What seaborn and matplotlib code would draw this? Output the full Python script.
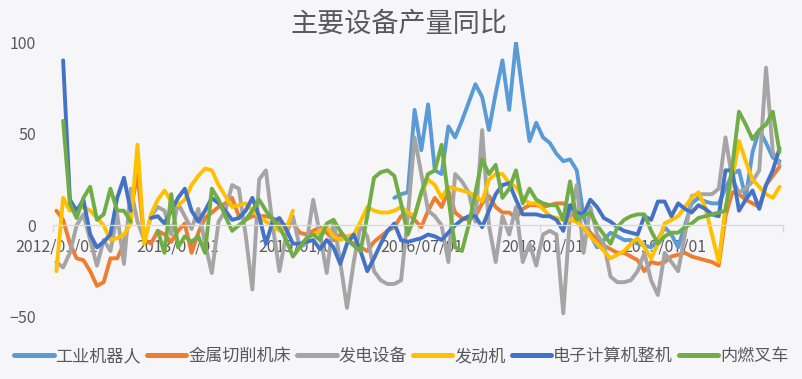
import numpy as np
import pandas as pd
import seaborn as sns
import matplotlib

matplotlib.use("Agg")
import matplotlib.pyplot as plt

NA = np.nan

# monthly categories 2012/01 .. 2020/12
months = pd.date_range("2012-01-01", periods=108, freq="MS")
tick_pos = [0, 18, 36, 54, 72, 90]
tick_labels = ["2012/01/01", "2013/07/01", "2015/01/01", "2016/07/01", "2018/01/01", "2019/07/01"]

series_names = ["工业机器人", "金属切削机床", "发电设备", "发动机", "电子计算机整机", "内燃叉车"]
colors = ["#5B9BD5", "#ED7D31", "#A5A5A5", "#FFC000", "#4472C4", "#70AD47"]

robot = [NA] * 50 + [
    15, 17, 18, 63, 41, 66, 30, 28, 54, 48,
    57, 67, 77, 70, 52, 72, 90, 63, 100, 72,
    46, 56, 48, 45, 39, 35, 36, 30, 5, -5,
    -12, -8, -4, -6, -8, -8, -10, -11, -12, -8,
    -1, -5, -12, 0, 12, 15, 13, 12, 12, 20,
    28, 30, 15, 40, 52, 45, 37, 35,
]

machine_tool = [
    8, 3, -10, -18, -19, -25, -33, -31, -18, -18,
    -10, 8, 28, -8, -10, -3, -5, -9, -3, 1,
    -15, -4, 4, 7, 10, 12, 15, 5, 3, 5,
    5, 5, 4, 1, 0, 1, -4, -5, -3, -1,
    -4, -8, -5, -8, -10, -12, -14, -9, -6, -3,
    -1, 5, 7, 3, -1, 8, 15, 10, 19, 7,
    4, 3, 5, 12, 16, 10, 7, 7, 4, 9,
    11, 11, 10, 11, 12, 12, 10, 2, -2, -4,
    -8, -11, -13, -15, -15, -17, -19, -25, -20, -21,
    -20, -17, -16, -15, -17, -18, -19, -20, -22, 5,
    18, 17, 14, 12, 10, 22, 27, 32,
]

power_gen = [
    -20, -23, -15, 0, 6, -8, -22, -8, -14, 6,
    -21, 20, 2, -8, 5, 10, 8, -5, 12, 5,
    -2, 9, -10, -26, 2, 8, 22, 20, -5, -35,
    25, 30, 0, -25, -5, 5, -12, -10, 14, -5,
    -26, 3, -20, -45, -20, 0, -6, -25, -30, -32,
    -32, -30, 5, 48, 28, 8, 5, 0, -20, 28,
    24, 18, 2, 52, 0, -20, 5, -5, 10, -20,
    -10, -22, -5, -3, -5, -48, 5, 22, -15, 10,
    -5, -10, -28, -31, -31, -30, -25, -15, -30, -38,
    -15, -20, -25, -5, 16, 17, 17, 17, 20, 48,
    25, 18, 20, 24, 30, 86, 40, 33,
]

engine = [
    -25, 15, 8, 9, 10, 8, 4, 0, -8, -7,
    -5, 1, 44, -10, 6, 14, 19, 13, 11, 14,
    22, 27, 31, 30, 22, 16, 10, 11, 12, 8,
    5, 2, 0, -3, -2, 8, NA, NA, -5, -3,
    -1, -6, -8, -6, -5, 2, 10, 8, 7, 7,
    8, 10, 7, 5, 18, 25, 22, 15, 21, 20,
    19, 18, 16, 13, 25, 28, 28, 23, 21, 15,
    12, 12, 9, 5, 4, 3, 3, 2, -1, -6,
    -10, -14, -18, -16, -14, -10, -7, -12, -18, -10,
    1, 3, 5, 10, 15, 18, 10, -5, -20, 10,
    25, 46, 35, 25, 21, 17, 15, 21,
]

computer = [
    NA, 90, 14, 8, 14, -5, -12, -9, -5, 15,
    26, 8, NA, NA, 4, 5, 1, 8, 15, 20,
    8, 2, 8, 15, 12, 8, 3, 4, 8, 15,
    5, -10, 2, 4, -2, -10, -10, -9, -8, -13,
    -8, -12, -21, -10, -5, -14, -25, -18, -10, -3,
    1, -8, -9, -8, -7, -5, -6, -8, -4, 0,
    3, 5, 5, -1, 8, 17, 22, 23, 14, 6,
    6, 6, 5, 5, 3, -3, 11, 7, 6, 14,
    10, 4, 2, -1, -3, -4, -5, 5, 3, 13,
    13, 5, 12, 9, 7, 11, 9, 6, 5, 30,
    30, 8, 14, 19, 9, 22, 30, 42,
]

forklift = [
    NA, 57, 12, 4, 15, 21, 3, 6, 20, 8,
    8, 2, NA, NA, NA, -3, -15, 17, -12, -6,
    -9, -6, -15, 20, 14, 5, -3, 0, 3, 8,
    14, 8, 3, -1, -8, -17, -12, -7, -5, -8,
    1, 3, -3, -8, -11, -14, 5, 26, 29, 30,
    27, 12, -5, 5, 18, 28, 30, 44, 15, -12,
    -14, 0, 18, 36, 28, 33, 15, 20, 30, 12,
    20, 14, 12, 11, 11, 3, 24, 3, 5, 7,
    0, -5, -10, -1, 3, 5, 6, 6, -3, -10,
    -6, -4, -4, -1, 1, 4, 5, 6, 7, 8,
    32, 62, 55, 47, 52, 55, 62, 40,
]

values = [robot, machine_tool, power_gen, engine, computer, forklift]

frames = []
for name, vals in zip(series_names, values):
    s = pd.DataFrame({"idx": np.arange(len(vals)), "value": vals, "series": name})
    # break the line wherever a month is missing
    s["seg"] = s["value"].isna().cumsum()
    frames.append(s.dropna())
df = pd.concat(frames, ignore_index=True)
df["unit"] = df["series"] + "_" + df["seg"].astype(str)

sns.set_theme(style="white")
plt.rcParams["font.family"] = ["Noto Sans CJK SC", "DejaVu Sans"]
text_color = "#595959"
bg = "#f6f6f8"

fig = plt.figure(figsize=(8.03, 3.79), dpi=100, facecolor=bg)
ax = fig.add_axes([0.066, 0.1636, 0.909, 0.7254])
ax.set_facecolor("none")

sns.lineplot(
    data=df,
    x="idx",
    y="value",
    hue="series",
    hue_order=series_names,
    palette=colors,
    units="unit",
    estimator=None,
    linewidth=2.8,
    ax=ax,
    legend=True,
)
for line in ax.get_lines():
    line.set_solid_joinstyle("round")
    line.set_solid_capstyle("round")

ax.set_xlim(-0.5, 107.5)
ax.set_ylim(-50, 100)
ax.set_xlabel("")
ax.set_ylabel("")

for side in ["top", "right", "left"]:
    ax.spines[side].set_visible(False)
ax.spines["bottom"].set_position(("data", 0))
ax.spines["bottom"].set_color("#d9d9d9")
ax.spines["bottom"].set_linewidth(1)

ax.set_xticks(tick_pos)
ax.set_xticklabels(tick_labels)
ax.set_xticks([p - 0.5 for p in tick_pos] + [107.5], minor=True)
ax.tick_params(axis="x", which="major", length=0, pad=9.5, labelsize=11.5, labelcolor=text_color)
ax.tick_params(axis="x", which="minor", length=5, width=1, color="#d9d9d9", direction="out", bottom=True)

ax.set_yticks([-50, 0, 50, 100])
ax.tick_params(axis="y", length=0, pad=12, labelsize=11.5, labelcolor=text_color)
ax.grid(False)

fig.text(0.497, 0.935, "主要设备产量同比", ha="center", va="center", fontsize=19.5, color=text_color)

handles, labels = ax.get_legend_handles_labels()
ax.get_legend().remove()
leg = fig.legend(
    handles,
    labels,
    loc="center",
    bbox_to_anchor=(0.5, 0.06),
    ncol=6,
    frameon=False,
    handlelength=2.3,
    handletextpad=0.12,
    columnspacing=0.35,
    fontsize=12.3,
)
for h in leg.get_lines():
    h.set_linewidth(3.6)
    h.set_solid_capstyle("round")
for t in leg.get_texts():
    t.set_color(text_color)

fig.savefig("out.png", dpi=100, facecolor=bg)
